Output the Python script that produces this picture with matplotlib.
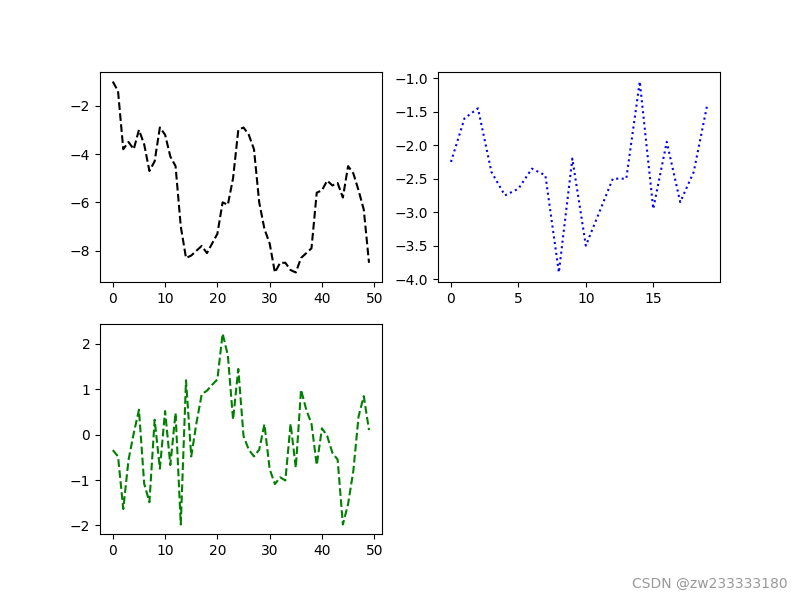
import matplotlib
matplotlib.use("Agg")
import matplotlib.pyplot as plt

# top-left: black dashed, 50 points
y1 = [-1.0, -1.4, -3.8, -3.5, -3.8, -3.0, -3.6, -4.7, -4.3, -2.9,
      -3.2, -4.1, -4.5, -7.0, -8.3, -8.2, -8.0, -7.8, -8.1, -7.7,
      -7.3, -6.0, -6.1, -5.0, -3.0, -2.9, -3.2, -3.8, -6.0, -7.1,
      -7.7, -8.9, -8.5, -8.5, -8.8, -8.9, -8.3, -8.1, -7.9, -5.6,
      -5.5, -5.1, -5.3, -5.2, -5.8, -4.5, -4.8, -5.5, -6.3, -8.5]

# top-right: blue dotted, 20 points
y2 = [-2.25, -1.6, -1.45, -2.4, -2.75, -2.65, -2.35, -2.45, -3.9, -2.2,
      -3.5, -3.0, -2.5, -2.5, -1.05, -2.95, -1.95, -2.85, -2.4, -1.4]

# bottom-left: green dashed, 50 points
y3 = [-0.34, -0.48, -1.64, -0.56, 0.03, 0.55, -1.08, -1.49, 0.33, -0.75,
      0.52, -0.67, 0.48, -1.98, 1.2, -0.48, 0.26, 0.89, 0.97, 1.1,
      1.22, 2.23, 1.75, 0.33, 1.45, -0.03, -0.33, -0.48, -0.33, 0.23,
      -0.76, -1.09, -0.94, -1.01, 0.24, -0.73, 0.99, 0.55, 0.24, -0.67,
      0.14, -0.03, -0.4, -0.55, -1.98, -1.53, -0.8, 0.4, 0.85, 0.1]

fig = plt.figure(figsize=(8, 6), dpi=100)
ax1 = fig.add_subplot(2, 2, 1)
ax2 = fig.add_subplot(2, 2, 2)
ax3 = fig.add_subplot(2, 2, 3)

ax1.plot(y1, "k--")
ax2.plot(y2, "b:")
ax3.plot(y3, "g--")

fig.text(0.985, 0.015, "CSDN @zw233333180", ha="right", va="bottom",
         color="#999999", fontsize=10)

fig.savefig("out.png")
